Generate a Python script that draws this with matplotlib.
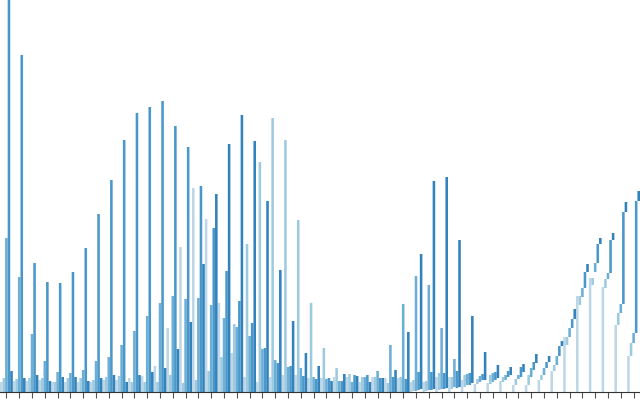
import matplotlib
matplotlib.use("Agg")
import matplotlib.pyplot as plt

warna = ["#bdd7e7", "#9ecae1", "#6baed6", "#4a98c9", "#3182bd"]

tops_0 = [10, 11, 11, 12, 10, 10, 10, 10, 12, 12, 14, 16, 26, 64, 145, 204, 173, 89, 39, 15,
          10, 15, 17, 17, 14, 14, 15, 15, 10, 15, 14, 14, 10, 10, 15, 15, 12, 8, 9, 11,
          7, 7, 12, 21, 55, 96, 114, 105, 67, 36]
tops_1 = [14, 13, 14, 14, 10, 14, 14, 12, 15, 16, 10, 10, 10, 17, 9, 12, 21, 35, 68, 148,
          230, 274, 252, 172, 89, 44, 24, 18, 15, 15, 9, 15, 12, 11, 19, 15, 17, 13, 17, 15,
          13, 17, 17, 27, 55, 96, 114, 113, 79, 49]
tops_2 = [154, 115, 58, 31, 20, 19, 22, 31, 35, 47, 61, 76, 89, 96, 93, 94, 87, 74, 65, 56,
          43, 32, 25, 24, 15, 13, 11, 10, 15, 21, 47, 88, 116, 107, 64, 33, 18, 16, 19, 17,
          17, 24, 24, 36, 64, 104, 129, 119, 88, 59]
tops_3 = [392, 337, 129, 110, 109, 120, 144, 178, 212, 252, 279, 285, 291, 266, 245, 206, 164, 121, 91, 69,
          44, 29, 26, 16, 13, 14, 11, 17, 17, 14, 15, 13, 20, 20, 19, 21, 19, 18, 20, 21,
          25, 30, 30, 46, 73, 120, 148, 152, 180, 191]
tops_4 = [21, 14, 17, 11, 15, 15, 11, 14, 17, 10, 17, 20, 24, 43, 70, 128, 198, 248, 277, 251,
          191, 122, 71, 39, 26, 11, 18, 16, 10, 14, 22, 60, 138, 211, 215, 152, 76, 40, 27, 25,
          28, 38, 36, 51, 83, 128, 154, 159, 190, 201]

bottoms_0 = [0] * 50
bottoms_1 = [0] * 32 + [1, 1, 2, 3, 5, 8, 8, 10, 7, 7, 12, 21, 47, 87, 107, 104, 67, 36]
bottoms_2 = [0] * 32 + [1, 2, 3, 5, 7, 10, 10, 12, 13, 15, 17, 27, 55, 95, 120, 113, 79, 49]
bottoms_3 = [0] * 32 + [2, 2, 3, 4, 7, 12, 12, 15, 15, 22, 24, 36, 64, 104, 129, 119, 88, 59]
bottoms_4 = [0] * 32 + [3, 3, 4, 5, 9, 12, 14, 17, 20, 29, 30, 46, 73, 120, 148, 152, 180, 191]

tops = [tops_0, tops_1, tops_2, tops_3, tops_4]
bottoms = [bottoms_0, bottoms_1, bottoms_2, bottoms_3, bottoms_4]

fig = plt.figure(figsize=(6.4, 4), dpi=100)
ax = fig.add_axes([0, 0, 1, 1])

for k in range(5):
    xs = [i + k * 0.2 for i in range(50)]
    tinggi = [t - b for t, b in zip(tops[k], bottoms[k])]
    bars = ax.bar(xs, tinggi, width=0.2, bottom=bottoms[k], align="edge", color=warna[k], linewidth=0)
    for b in bars:
        b.set_snap(False)

ax.set_xlim(0, 50)
ax.set_ylim(-8, 392)
ax.set_yticks([])
ax.set_xticks([i + 0.5 for i in range(50)])
ax.set_xticklabels([])
ax.tick_params(axis="x", length=4, width=0.8, color="#555555", direction="out")
for s in ["top", "left", "right"]:
    ax.spines[s].set_visible(False)
ax.spines["bottom"].set_position(("data", 0))
ax.spines["bottom"].set_color("#333333")
ax.spines["bottom"].set_linewidth(0.8)

fig.savefig("out.png", dpi=100)
